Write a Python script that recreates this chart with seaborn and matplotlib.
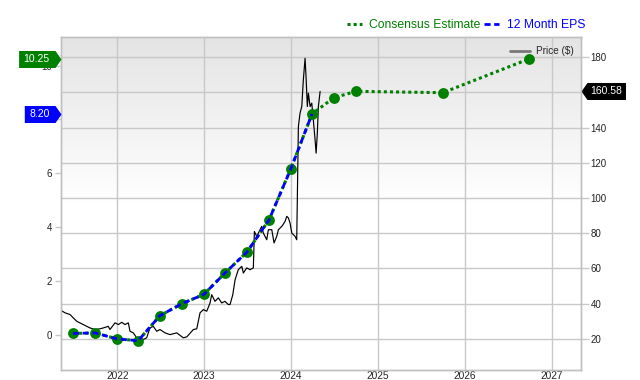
import numpy as np
import matplotlib
matplotlib.use("Agg")
import matplotlib.pyplot as plt
import matplotlib.transforms as mtransforms
from matplotlib.path import Path
from matplotlib.lines import Line2D
from matplotlib.colors import LinearSegmentedColormap
import seaborn as sns

# ---------------- data ----------------
years = [2022, 2023, 2024, 2025, 2026, 2027]

eps_x = [2021.49, 2021.745, 2021.995, 2022.24, 2022.49, 2022.745, 2022.995, 2023.24,
         2023.49, 2023.745, 2023.995, 2024.24, 2024.49, 2024.745, 2025.745, 2026.74]
eps_y = [0.04, 0.06, -0.16, -0.23, 0.70, 1.15, 1.49, 2.29,
         3.06, 4.26, 6.15, 8.20, 8.80, 9.04, 8.99, 10.25]
n_actual = 12  # 12 Month EPS covers the first 12 points

price_x = [2021.352, 2021.398, 2021.456, 2021.533, 2021.609, 2021.686, 2021.743, 2021.801,
           2021.839, 2021.896, 2021.916, 2021.974, 2022.012, 2022.051, 2022.089, 2022.127,
           2022.146, 2022.184, 2022.223, 2022.261, 2022.299, 2022.338, 2022.376, 2022.414,
           2022.453, 2022.491, 2022.549, 2022.606, 2022.684, 2022.759, 2022.799, 2022.875,
           2022.914, 2022.952, 2022.990, 2023.029, 2023.067, 2023.086, 2023.124, 2023.162,
           2023.201, 2023.239, 2023.277, 2023.297, 2023.328, 2023.355, 2023.392, 2023.432,
           2023.450, 2023.489, 2023.527, 2023.565, 2023.577, 2023.604, 2023.642, 2023.661,
           2023.680, 2023.719, 2023.738, 2023.777, 2023.803, 2023.834, 2023.853, 2023.892,
           2023.930, 2023.949, 2023.968, 2023.987, 2024.007, 2024.045, 2024.064, 2024.083,
           2024.102, 2024.122, 2024.140, 2024.160, 2024.171, 2024.186, 2024.198, 2024.218,
           2024.237, 2024.255, 2024.275, 2024.287, 2024.301, 2024.313, 2024.333]
price_y = [36.2, 34.8, 33.8, 30.0, 28.1, 26.2, 25.3, 25.7,
           26.2, 27.1, 25.3, 29.1, 28.1, 29.4, 28.1, 29.1,
           24.3, 23.4, 20.6, 20.0, 19.6, 20.6, 26.2, 27.1,
           24.3, 25.3, 23.4, 22.4, 23.4, 20.6, 21.1, 25.3,
           25.7, 34.8, 36.6, 35.7, 40.4, 45.1, 41.3, 43.3,
           40.4, 41.3, 39.5, 39.5, 45.0, 53.6, 59.3, 61.2,
           57.4, 60.3, 59.3, 60.3, 81.0, 78.2, 82.0, 83.9,
           80.1, 76.3, 82.0, 82.0, 74.5, 78.2, 82.0, 83.9,
           86.7, 89.6, 88.7, 85.8, 80.1, 78.2, 76.3, 140.6,
           148.2, 152.0, 167.1, 179.4, 169.0, 152.0, 159.6, 152.0,
           153.9, 144.4, 133.1, 125.5, 136.9, 152.0, 160.58]

eps_ticks = [0, 2, 4, 6, 8, 10]
price_ticks = [20, 40, 60, 80, 100, 120, 140, 160, 180]

# ---------------- style ----------------
sns.set_theme(style="white")
plt.rcParams['font.family'] = ['Liberation Sans', 'DejaVu Sans']

GREEN = '#008000'
BLUE = '#0000ff'
GRID = '#c8c8c8'

fig = plt.figure(figsize=(6.4, 3.8), dpi=100)
ax = fig.add_axes([60.7 / 640, 10.5 / 380, (581 - 60.7) / 640, 332.5 / 380])  # price (right axis)
ax2 = ax.twinx()                                                              # EPS (left axis)

# gradient background
cmap = LinearSegmentedColormap.from_list('bg', [(0, '#ffffff'), (0.50, '#ffffff'), (1, '#e4e4e4')])
grad = np.linspace(0, 1, 256).reshape(-1, 1)
ax.imshow(grad, extent=[0, 1, 0, 1], transform=ax.transAxes, origin='lower',
          aspect='auto', cmap=cmap, zorder=0, interpolation='bicubic')

# price line
sns.lineplot(x=np.array(price_x), y=np.array(price_y), ax=ax, color='black', lw=0.85,
             zorder=3, legend=False)

# EPS lines
sns.lineplot(x=np.array(eps_x), y=np.array(eps_y), ax=ax2, color=GREEN, lw=2.2,
             linestyle=(0, (1, 1)), marker='o', markersize=7.8, markeredgewidth=0,
             markerfacecolor=GREEN, zorder=3, legend=False)
sns.lineplot(x=np.array(eps_x[:n_actual]), y=np.array(eps_y[:n_actual]), ax=ax2, color=BLUE,
             lw=2.0, linestyle=(0, (2.2, 1.3)), zorder=4, legend=False)

# axes limits / ticks
ax.set_xlim(2021.349, 2027.334)
ax.set_ylim(2.58, 191.5)
ax2.set_ylim(-1.30, 11.06)

ax.set_xticks(years)
ax.set_xticklabels([str(y) for y in years])
ax.set_yticks(price_ticks)
ax.set_yticklabels([str(p) for p in price_ticks])
ax2.set_yticks(eps_ticks)
ax2.set_yticklabels([str(e) for e in eps_ticks])

ax.yaxis.tick_right()
ax2.yaxis.tick_left()

ax.set_axisbelow(True)
ax.grid(True, color=GRID, lw=1)
ax2.grid(False)

ax.tick_params(axis='x', length=0, pad=1.0, labelsize=7.3, labelcolor='#222222')
ax.tick_params(axis='y', right=True, left=False, length=5.8, width=1, color=GRID, pad=1,
               labelsize=7, labelcolor='#222222')
ax2.tick_params(axis='y', left=True, right=False, length=4.3, width=1, color=GRID, pad=2,
                labelsize=7, labelcolor='#222222')
for a in (ax, ax2):
    for s in a.spines.values():
        s.set_color('#c0c0c0')
        s.set_linewidth(1)
ax.set_xlabel('')
ax.set_ylabel('')
ax2.set_ylabel('')

# ---------------- badges ----------------
PX = 100 / 72.0


def badge(axis, yval, text, color, side, w, h=17, tip=6):
    if side == 'left':
        verts = [(0, 0), (-tip, h / 2), (-w, h / 2), (-w, -h / 2), (-tip, -h / 2), (0, 0)]
        xa, cx = 0, -(w + tip) / 2
    else:
        verts = [(0, 0), (tip, h / 2), (w, h / 2), (w, -h / 2), (tip, -h / 2), (0, 0)]
        xa, cx = 1, (w + tip) / 2
    path = Path(verts, closed=True)
    trans = mtransforms.blended_transform_factory(axis.transAxes, axis.transData)
    ms = 2 * max(w, h / 2) / PX
    axis.plot([xa], [yval], marker=path, markersize=ms, color=color, markeredgewidth=0,
              linestyle='none', transform=trans, clip_on=False, zorder=10)
    axis.annotate(text, xy=(xa, yval), xycoords=trans, xytext=(cx / PX, 0),
                  textcoords='offset points', ha='center', va='center', color='white',
                  fontsize=7.5, zorder=11, annotation_clip=False)


badge(ax2, eps_y[-1], f"{eps_y[-1]:.2f}", GREEN, 'left', w=42.4)
badge(ax2, eps_y[n_actual - 1], f"{eps_y[n_actual - 1]:.2f}", BLUE, 'left', w=36.7)
badge(ax, price_y[-1], f"{price_y[-1]:.2f}", 'black', 'right', w=44.5)

# ---------------- legends ----------------
h_cons = Line2D([], [], color=GREEN, lw=2.2, linestyle=(0, (1, 1)))
h_eps = Line2D([], [], color=BLUE, lw=2.0, linestyle=(0, (2.2, 1.3)))
fig.legend(handles=[h_cons, h_eps], labels=['Consensus Estimate', '12 Month EPS'],
           loc='center right', bbox_to_anchor=(585 / 640, 1 - 25 / 380),
           bbox_transform=fig.transFigure, ncol=2, frameon=False, fontsize=8.7,
           handlelength=1.25, handletextpad=0.6, columnspacing=0.3, borderpad=0,
           borderaxespad=0, labelcolor='linecolor')

h_price = Line2D([], [], color='#777777', lw=2)
leg2 = ax2.legend(handles=[h_price], labels=['Price ($)'], loc='center right',
                  bbox_to_anchor=(574 / 640, 1 - 51 / 380), bbox_transform=fig.transFigure,
                  frameon=False, fontsize=7.2, handlelength=2.0, handletextpad=0.6,
                  borderpad=0, borderaxespad=0)
leg2.set_zorder(12)

fig.savefig('out.png', dpi=100)
